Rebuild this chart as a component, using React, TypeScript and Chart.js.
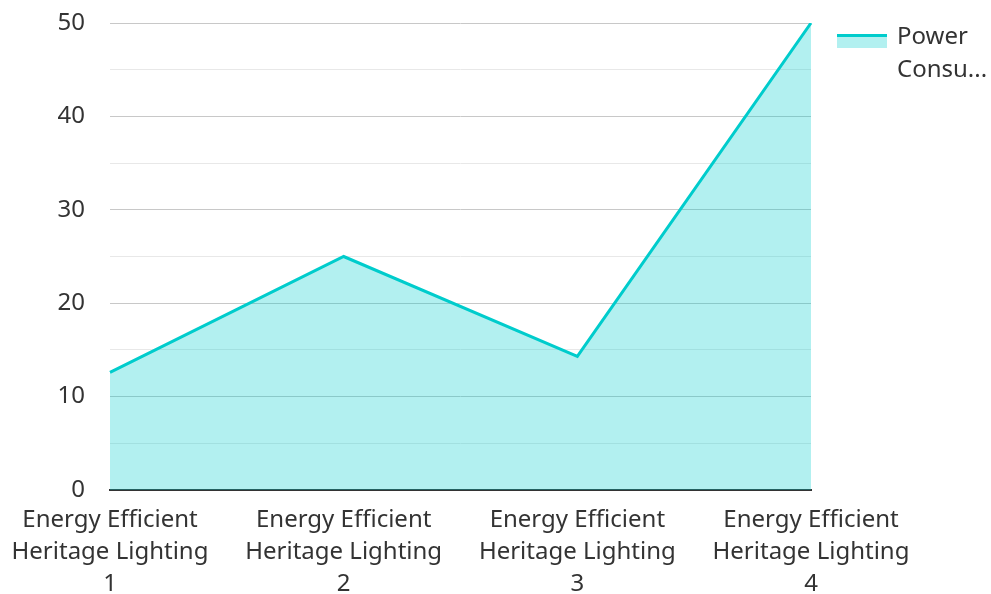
import React, { useEffect, useRef } from "react";
import { Chart, registerables } from "chart.js";

Chart.register(...registerables);

const categories: string[][] = [
  ["Energy Efficient", "Heritage Lighting", "1"],
  ["Energy Efficient", "Heritage Lighting", "2"],
  ["Energy Efficient", "Heritage Lighting", "3"],
  ["Energy Efficient", "Heritage Lighting", "4"],
];
const powerValues: number[] = [12.6, 25, 14.3, 50];
const seriesName = "Power Consumption";
const legendLines: string[] = ["Power", "Consu..."];

const LINE = "#00CCCC";
const FILL = "rgba(0, 204, 204, 0.3)";
const FONT = "'Noto Sans', sans-serif";
const TEXT = "#333333";

const legendPlugin = {
  id: "customLegend",
  afterDraw(chart: any) {
    const ctx = chart.ctx;
    ctx.save();
    ctx.fillStyle = FILL;
    ctx.fillRect(837, 34, 50, 14);
    ctx.strokeStyle = LINE;
    ctx.lineWidth = 3;
    ctx.beginPath();
    ctx.moveTo(837, 35.5);
    ctx.lineTo(887, 35.5);
    ctx.stroke();
    ctx.fillStyle = TEXT;
    ctx.font = `24px ${FONT}`;
    ctx.textBaseline = "middle";
    ctx.textAlign = "left";
    legendLines.forEach((t, i) => ctx.fillText(t, 897, 37 + i * 33));
    ctx.restore();
  },
};

export default function App() {
  const ref = useRef<HTMLCanvasElement>(null);
  useEffect(() => {
    if (!ref.current) return;
    const chart = new Chart(ref.current, {
      type: "line",
      data: {
        labels: categories,
        datasets: [
          {
            label: seriesName,
            data: powerValues,
            borderColor: LINE,
            backgroundColor: FILL,
            borderWidth: 3,
            fill: "origin",
            pointRadius: 0,
            tension: 0,
          },
        ],
      },
      options: {
        animation: false,
        responsive: false,
        maintainAspectRatio: false,
        layout: { padding: { top: 23, right: 180, left: 0, bottom: 0 } },
        plugins: { legend: { display: false }, tooltip: { enabled: false } },
        scales: {
          x: {
            offset: false,
            grid: { display: false, drawTicks: false },
            border: { display: true, color: "#333333", width: 2 },
            ticks: {
              color: TEXT,
              font: { family: FONT, size: 24, lineHeight: 1.333 },
              padding: 14,
              maxRotation: 0,
              autoSkip: false,
            },
            afterFit: (s: any) => {
              s.height = 104;
              s.paddingLeft = 0;
              s.paddingRight = 0;
            },
          },
          y: {
            min: 0,
            max: 50,
            ticks: {
              stepSize: 5,
              color: TEXT,
              font: { family: FONT, size: 24 },
              padding: 25,
              callback: (v: any) => (Number(v) % 10 === 0 ? String(v) : ""),
            },
            grid: {
              drawTicks: false,
              color: (c: any) =>
                c.tick && c.tick.value % 10 === 0 ? "#c8c8c8" : "#e8e8e8",
              lineWidth: 1,
            },
            border: { display: false },
            afterFit: (s: any) => {
              s.width = 110;
              s.paddingTop = 0;
              s.paddingBottom = 0;
            },
          },
        },
      },
      plugins: [legendPlugin],
    });
    return () => chart.destroy();
  }, []);
  return (
    <div style={{ position: "absolute", left: 0, top: 0, width: 991, height: 594, background: "#fff" }}>
      <canvas ref={ref} width={991} height={594} />
    </div>
  );
}
